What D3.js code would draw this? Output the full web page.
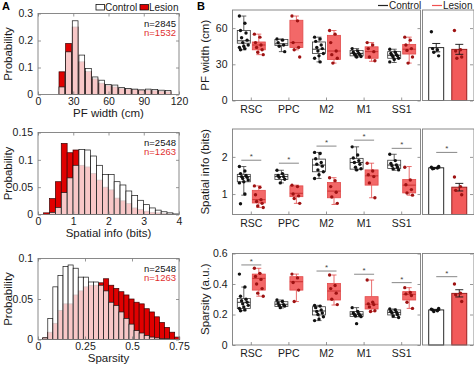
<!DOCTYPE html>
<html>
<head>
<meta charset="utf-8">
<script src="https://cdn.jsdelivr.net/npm/d3@7"></script>
<style>
  body { margin: 0; background: #fff; }
  svg { font-family: "Liberation Sans", Arial, sans-serif; }
</style>
</head>
<body>
<svg id="fig" width="474" height="366"></svg>
<script>
// ---- panel A: histograms (probability per bin) ----
const pfBinStart = 17.5, pfBinWidth = 5.65;
const pfControl = [0.028, 0.158, 0.273, 0.146, 0.096, 0.065, 0.053, 0.037, 0.035, 0.026, 0.022, 0.020, 0.017, 0.020, 0.018, 0.016, 0.015];
const pfLesion  = [0.084, 0.189, 0.250, 0.121, 0.085, 0.058, 0.042, 0.033, 0.028, 0.022, 0.020, 0.018, 0.016, 0.016, 0.014, 0.012, 0.010];

const siBinStart = 0.16, siBinWidth = 0.1667;
const siControl = [0, 0.004, 0.013, 0.040, 0.067, 0.090, 0.119, 0.118, 0.107, 0.090, 0.073, 0.073, 0.060, 0.054, 0.043, 0.035, 0.026, 0.018, 0.012, 0.008, 0.005, 0.003, 0.001];
const siLesion  = [0.003, 0.029, 0.060, 0.130, 0.113, 0.118, 0.090, 0.087, 0.075, 0.063, 0.050, 0.045, 0.030, 0.025, 0.020, 0.012, 0.009, 0.006, 0.004, 0.003, 0.002, 0.001, 0];

const spBinStart = 0.025, spBinWidth = 0.027;
const spControl = [0.002, 0.026, 0.065, 0.079, 0.090, 0.092, 0.088, 0.077, 0.077, 0.071, 0.071, 0.067, 0.060, 0.046, 0.042, 0.034, 0.026, 0.019, 0.011, 0.008, 0.005, 0.003, 0.002, 0.001, 0.001, 0, 0];
const spLesion  = [0.002, 0.009, 0.020, 0.036, 0.044, 0.044, 0.055, 0.060, 0.065, 0.067, 0.067, 0.070, 0.075, 0.067, 0.063, 0.059, 0.055, 0.050, 0.046, 0.044, 0.038, 0.034, 0.028, 0.021, 0.015, 0.009, 0.003];

const nControl = ["n=2845", "n=2548", "n=2548"];
const nLesion  = ["n=1532", "n=1263", "n=1263"];

// ---- panel B: per-region boxes [lo, q1, median, q3, hi] and sessions ----
const regions = ["RSC", "PPC", "M2", "M1", "SS1"];

const pfCtrlBox = [[42, 47.5, 49.5, 58, 70], [40.5, 45.5, 47, 50.5, 51], [32, 39, 42.5, 48.5, 52.5], [36, 37, 39, 41.5, 43], [31.5, 35, 37.5, 40.5, 42.5]];
const pfLesBox  = [[38, 42, 46, 48.5, 55], [42, 44, 48, 66.5, 70], [31, 34, 41, 54, 58], [32.5, 35, 40.5, 44.5, 48], [31, 38.5, 42.5, 46.5, 52.5]];
const pfCtrlPts = [[70, 64, 58, 56, 52, 50, 48, 46, 45, 44, 43, 42], [51, 50, 48, 46, 45, 40.5], [52.5, 51, 49, 46, 44, 43, 41, 39, 37, 35, 32], [43, 41, 40, 39, 38.5, 38, 37.5, 36.5, 36], [42.5, 40, 39, 38, 37.5, 37, 36, 35, 34, 32]];
const pfLesPts  = [[55, 52.5, 48, 46, 44, 42, 40, 38], [70, 66, 48, 44, 42, 36], [58, 55, 48, 41, 38, 35, 31], [48, 46, 43, 40.5, 36, 33], [52.5, 50, 46, 43, 41.5, 36, 31]];
const pfSig = [null, null, null, null, null];

const siCtrlBox = [[0.97, 1.33, 1.47, 1.53, 1.74], [1.30, 1.39, 1.47, 1.53, 1.64], [1.42, 1.60, 1.78, 1.94, 2.12], [1.65, 1.67, 1.85, 1.96, 2.27], [1.64, 1.69, 1.78, 1.91, 2.07]];
const siLesBox  = [[0.64, 0.76, 0.85, 1.10, 1.22], [0.75, 0.93, 1.02, 1.22, 1.24], [0.72, 0.90, 1.08, 1.31, 1.44], [0.90, 1.24, 1.49, 1.65, 1.83], [0.97, 1.03, 1.24, 1.39, 1.74]];
const siCtrlPts = [[1.74, 1.62, 1.55, 1.5, 1.47, 1.45, 1.42, 1.38, 1.33, 1.3, 1.0, 0.74], [1.64, 1.55, 1.5, 1.47, 1.45, 1.4, 1.3], [2.12, 2.09, 1.95, 1.85, 1.8, 1.75, 1.65, 1.6, 1.52, 1.42], [2.27, 2.05, 1.97, 1.9, 1.85, 1.8, 1.72, 1.68, 1.65], [2.07, 1.9, 1.82, 1.78, 1.76, 1.72, 1.68, 1.65]];
const siLesPts  = [[1.22, 1.18, 0.98, 0.85, 0.8, 0.75, 0.68, 0.64], [1.24, 1.2, 1.0, 0.95, 0.88, 0.75], [1.44, 1.36, 1.2, 1.05, 0.92, 0.75], [1.83, 1.62, 1.52, 1.47, 1.3, 0.9], [1.72, 1.38, 1.25, 1.12, 1.03, 0.97]];
const siSig = [1.91, 1.83, 2.29, 2.45, 2.23];

const spCtrlBox = [[0.225, 0.24, 0.28, 0.305, 0.38], [0.243, 0.252, 0.267, 0.284, 0.295], [0.16, 0.197, 0.223, 0.251, 0.26], [0.185, 0.187, 0.202, 0.219, 0.245], [0.18, 0.197, 0.214, 0.23, 0.236]];
const spLesBox  = [[0.32, 0.36, 0.437, 0.465, 0.503], [0.285, 0.36, 0.415, 0.448, 0.465], [0.262, 0.295, 0.354, 0.404, 0.459], [0.219, 0.236, 0.267, 0.317, 0.426], [0.24, 0.295, 0.332, 0.35, 0.376]];
const spCtrlPts = [[0.465, 0.38, 0.32, 0.3, 0.29, 0.28, 0.27, 0.26, 0.25, 0.24, 0.23, 0.225], [0.295, 0.285, 0.275, 0.265, 0.26, 0.255, 0.245], [0.26, 0.255, 0.245, 0.23, 0.22, 0.21, 0.2, 0.185, 0.17, 0.16], [0.245, 0.22, 0.21, 0.205, 0.2, 0.195, 0.19, 0.186, 0.14], [0.236, 0.23, 0.22, 0.215, 0.21, 0.2, 0.19, 0.18]];
const spLesPts  = [[0.503, 0.47, 0.45, 0.43, 0.4, 0.37, 0.34, 0.32], [0.465, 0.44, 0.41, 0.36, 0.285], [0.459, 0.39, 0.37, 0.34, 0.3, 0.265], [0.426, 0.28, 0.27, 0.265, 0.25, 0.225, 0.22], [0.376, 0.345, 0.335, 0.325, 0.28, 0.24]];
const spSig = [0.525, null, 0.485, 0.464, 0.409];

// per-animal values for the summary bars
const pfMiceCtrl = [57, 42, 43, 37, 40];
const pfMiceLes  = [58, 42, 41, 36, 35];
const siMiceCtrl = [1.72, 1.70, 1.68, 1.74, 1.69];
const siMiceLes  = [1.46, 1.2, 1.1, 0.98];
const spMiceCtrl = [0.235, 0.225, 0.23, 0.24, 0.22];
const spMiceLes  = [0.40, 0.34, 0.33, 0.285];
const barSig = [null, 2.12, 0.448];

// ---- styles ----
const axisGray = "#7d7d7d";
const txt = "#1a1a1a";
const histRed = "#e00000";
const boxRed = "#f36868";
const boxRedLine = "#e24a4a";
const dotRed = "#9e1212";

const svg = d3.select("#fig");

function frame(g, x0, x1, y0, y1) {
  g.append("rect")
    .attr("x", x0).attr("y", y0)
    .attr("width", x1 - x0).attr("height", y1 - y0)
    .attr("fill", "none").attr("stroke", axisGray).attr("stroke-width", 0.9);
}

function styleAxis(sel, size) {
  sel.select(".domain").remove();
  sel.selectAll(".tick line").attr("stroke", axisGray).attr("stroke-width", 0.8);
  sel.selectAll(".tick text").attr("fill", txt).attr("font-size", size);
  sel.attr("font-family", null);
}

// ---------------- panel A ----------------
function drawHist(p) {
  const g = svg.append("g");
  const x0 = 38, x1 = 179;
  const x = d3.scaleLinear().domain(p.xDom).range([x0, x1]);
  const y = d3.scaleLinear().domain(p.yDom).range([p.bottom, p.top]);
  const bins = vals => vals.map((v, i) => ({ v, a: p.start + i * p.width, b: p.start + (i + 1) * p.width })).filter(d => d.v > 0);
  const gap = p.gap || 0;

  g.append("g").selectAll("rect").data(bins(p.lesion)).join("rect")
    .attr("x", d => x(d.a) + gap / 2)
    .attr("width", d => x(d.b) - x(d.a) - gap)
    .attr("y", d => y(d.v))
    .attr("height", d => y(0) - y(d.v))
    .attr("fill", histRed).attr("stroke", "#3a0000").attr("stroke-width", 0.7);

  g.append("g").selectAll("rect").data(bins(p.control)).join("rect")
    .attr("x", d => x(d.a) + gap / 2)
    .attr("width", d => x(d.b) - x(d.a) - gap)
    .attr("y", d => y(d.v))
    .attr("height", d => y(0) - y(d.v))
    .attr("fill", "#fff").attr("fill-opacity", 0.78)
    .attr("stroke", "#151515").attr("stroke-width", 0.7);

  frame(g, x0, x1, p.top, p.bottom);

  g.append("g").attr("transform", `translate(${x0},0)`)
    .call(d3.axisLeft(y).tickValues(p.yTicks).tickFormat(d => d).tickSize(-3).tickPadding(5))
    .call(s => styleAxis(s, "10.5px"));
  g.append("g").attr("transform", `translate(${x1},0)`)
    .call(d3.axisRight(y).tickValues(p.yTicks).tickFormat("").tickSize(-3))
    .call(s => styleAxis(s, "10px"));
  g.append("g").attr("transform", `translate(0,${p.bottom})`)
    .call(d3.axisBottom(x).tickValues(p.xTicks).tickFormat(d => d).tickSize(-3).tickPadding(3))
    .call(s => styleAxis(s, "10.5px"));
  g.append("g").attr("transform", `translate(0,${p.top})`)
    .call(d3.axisTop(x).tickValues(p.xTicks).tickFormat("").tickSize(-3))
    .call(s => styleAxis(s, "10px"));

  g.append("text").attr("x", (x0 + x1) / 2).attr("y", p.bottom + 22)
    .attr("text-anchor", "middle").attr("font-size", "11.5px").attr("fill", txt).text(p.xLabel);
  g.append("text").attr("transform", `translate(12,${(p.top + p.bottom) / 2}) rotate(-90)`)
    .attr("text-anchor", "middle").attr("font-size", "11.5px").attr("fill", txt).text("Probability");

  g.append("text").attr("x", 176).attr("y", p.top + 13)
    .attr("text-anchor", "end").attr("font-size", "9.5px").attr("fill", "#111").text(p.nC);
  g.append("text").attr("x", 176).attr("y", p.top + 22.5)
    .attr("text-anchor", "end").attr("font-size", "9.5px").attr("fill", "#e03030").text(p.nL);
}

drawHist({ control: pfControl, lesion: pfLesion, start: pfBinStart, width: pfBinWidth, gap: 0.9,
  xDom: [0, 120], yDom: [0, 0.3], top: 13.5, bottom: 94.5,
  xTicks: [0, 30, 60, 90, 120], yTicks: [0, 0.1, 0.2, 0.3], xLabel: "PF width (cm)", nC: nControl[0], nL: nLesion[0] });
drawHist({ control: siControl, lesion: siLesion, start: siBinStart, width: siBinWidth,
  xDom: [0, 4], yDom: [0, 0.15], top: 132.5, bottom: 214.5,
  xTicks: [0, 1, 2, 3, 4], yTicks: [0, 0.05, 0.1, 0.15], xLabel: "Spatial info (bits)", nC: nControl[1], nL: nLesion[1] });
drawHist({ control: spControl, lesion: spLesion, start: spBinStart, width: spBinWidth,
  xDom: [0, 0.75], yDom: [0, 0.1], top: 258.5, bottom: 339.5,
  xTicks: [0, 0.25, 0.5, 0.75], yTicks: [0, 0.05, 0.1], xLabel: "Sparsity", nC: nControl[2], nL: nLesion[2] });

// legend A
const legA = svg.append("g").attr("font-size", "10px").attr("fill", txt);
legA.append("rect").attr("x", 96).attr("y", 4.5).attr("width", 8.5).attr("height", 5.5)
  .attr("fill", "#fff").attr("stroke", "#111").attr("stroke-width", 0.8);
legA.append("text").attr("x", 105).attr("y", 11).text("Control");
legA.append("rect").attr("x", 140).attr("y", 4.5).attr("width", 8.5).attr("height", 5.5)
  .attr("fill", histRed).attr("stroke", "#111").attr("stroke-width", 0.8);
legA.append("text").attr("x", 149).attr("y", 11).text("Lesion");

svg.append("text").attr("x", 2).attr("y", 10).attr("font-size", "11px").attr("font-weight", "bold").text("A");
svg.append("text").attr("x", 197).attr("y", 10).attr("font-size", "11px").attr("font-weight", "bold").text("B");

// ---------------- panel B ----------------
const bx0 = 232.5, bx1 = 420.5, px0 = 422.5, px1 = 474;
const xr = d3.scaleBand().domain(regions).range([bx0, bx1]);
const xc = d3.scalePoint().domain(["c", "l"]).range([-7.5, 7.5]);
const xs = d3.scaleBand().domain(["c", "l"]).range([px0, px1 - 1]).paddingInner(0.35).paddingOuter(0.27);
const jitter = i => ((i * 5) % 9 - 4) * 1.1;
const boxW = 13;

function drawBox(g, y, cx, st, isLes) {
  const stroke = isLes ? boxRedLine : "#3a3a3a";
  const [lo, q1, md, q3, hi] = st;
  const cap = 2.5;
  g.append("line").attr("x1", cx).attr("x2", cx).attr("y1", y(q3)).attr("y2", y(hi)).attr("stroke", stroke).attr("stroke-width", 0.8);
  g.append("line").attr("x1", cx).attr("x2", cx).attr("y1", y(q1)).attr("y2", y(lo)).attr("stroke", stroke).attr("stroke-width", 0.8);
  g.append("line").attr("x1", cx - cap).attr("x2", cx + cap).attr("y1", y(hi)).attr("y2", y(hi)).attr("stroke", stroke).attr("stroke-width", 0.8);
  g.append("line").attr("x1", cx - cap).attr("x2", cx + cap).attr("y1", y(lo)).attr("y2", y(lo)).attr("stroke", stroke).attr("stroke-width", 0.8);
  g.append("rect").attr("x", cx - boxW / 2).attr("width", boxW)
    .attr("y", y(q3)).attr("height", y(q1) - y(q3))
    .attr("fill", isLes ? boxRed : "#fff").attr("stroke", stroke).attr("stroke-width", 0.8);
  g.append("line").attr("x1", cx - boxW / 2).attr("x2", cx + boxW / 2).attr("y1", y(md)).attr("y2", y(md))
    .attr("stroke", isLes ? "#c42a2a" : "#222").attr("stroke-width", 0.9);
}

function drawDots(g, y, cx, pts, isLes, spread) {
  g.append("g").selectAll("circle").data(pts).join("circle")
    .attr("cx", (d, i) => cx + jitter(i) * spread)
    .attr("cy", d => y(d))
    .attr("r", 1.7)
    .attr("fill", isLes ? dotRed : "#111");
}

function sigMark(g, xa, xb, yy) {
  g.append("line").attr("x1", xa).attr("x2", xb).attr("y1", yy).attr("y2", yy).attr("stroke", "#6a6a6a").attr("stroke-width", 0.8);
  g.append("text").attr("x", (xa + xb) / 2).attr("y", yy - 1).attr("text-anchor", "middle")
    .attr("font-size", "8px").attr("fill", "#444").text("*");
}

function drawRow(p) {
  const g = svg.append("g");
  const y = d3.scaleLinear().domain(p.yDom).range([p.bottom, p.top]);
  const cx = r => xr(r) + xr.bandwidth() / 2;

  regions.forEach((r, i) => {
    drawBox(g, y, cx(r) + xc("c"), p.ctrlBox[i], false);
    drawBox(g, y, cx(r) + xc("l"), p.lesBox[i], true);
  });
  regions.forEach((r, i) => {
    drawDots(g, y, cx(r) + xc("c"), p.ctrlPts[i], false, 1);
    drawDots(g, y, cx(r) + xc("l"), p.lesPts[i], true, 1);
    if (p.sig[i] != null) sigMark(g, cx(r) - 10, cx(r) + 10, y(p.sig[i]));
  });

  frame(g, bx0, bx1, p.top, p.bottom);
  g.append("g").attr("transform", `translate(${bx0},0)`)
    .call(d3.axisLeft(y).tickValues(p.yTicks).tickFormat(d => d).tickSize(-3).tickPadding(5))
    .call(s => styleAxis(s, "10.5px"));
  g.append("g").attr("transform", `translate(${bx1},0)`)
    .call(d3.axisRight(y).tickValues(p.yTicks).tickFormat("").tickSize(-3))
    .call(s => styleAxis(s, "10px"));
  g.append("g").attr("transform", `translate(0,${p.bottom})`)
    .call(d3.axisBottom(xr).tickSize(-3).tickPadding(5))
    .call(s => styleAxis(s, "10.5px"));
  g.append("text").attr("transform", `translate(209,${(p.top + p.bottom) / 2}) rotate(-90)`)
    .attr("text-anchor", "middle").attr("font-size", "11.5px").attr("fill", txt).text(p.yLabel);

  // summary bars (mean +/- SEM per animal)
  const base = y(p.yDom[0]);
  [["c", p.miceC], ["l", p.miceL]].forEach(([k, pts]) => {
    const m = d3.mean(pts), sem = d3.deviation(pts) / Math.sqrt(pts.length);
    const bxp = xs(k), bw = xs.bandwidth(), mid = bxp + bw / 2;
    g.append("rect").attr("x", bxp).attr("width", bw).attr("y", y(m)).attr("height", base - y(m))
      .attr("fill", k === "l" ? "#f25a5a" : "#fff")
      .attr("stroke", k === "l" ? "#8e1414" : "#111").attr("stroke-width", 0.9);
    g.append("line").attr("x1", mid).attr("x2", mid).attr("y1", y(m - sem)).attr("y2", y(m + sem)).attr("stroke", "#111").attr("stroke-width", 0.9);
    g.append("line").attr("x1", mid - 4).attr("x2", mid + 4).attr("y1", y(m + sem)).attr("y2", y(m + sem)).attr("stroke", "#111").attr("stroke-width", 0.9);
    g.append("line").attr("x1", mid - 4).attr("x2", mid + 4).attr("y1", y(m - sem)).attr("y2", y(m - sem)).attr("stroke", "#111").attr("stroke-width", 0.9);
    drawDots(g, y, mid, pts, k === "l", 1.1);
  });
  if (p.barSig != null) sigMark(g, xs("c") + xs.bandwidth() / 2, xs("l") + xs.bandwidth() / 2 - 2, y(p.barSig));

  frame(g, px0, px1, p.top, p.bottom);
  g.append("g").attr("transform", `translate(${px1 - 4},0)`)
    .call(d3.axisRight(y).tickValues(p.yTicks).tickFormat("").tickSize(3))
    .call(s => styleAxis(s, "10px"));
}

drawRow({ top: 10, bottom: 100.5, yDom: [0, 75], yTicks: [0, 30, 60], yLabel: "PF width (cm)",
  ctrlBox: pfCtrlBox, lesBox: pfLesBox, ctrlPts: pfCtrlPts, lesPts: pfLesPts, sig: pfSig,
  miceC: pfMiceCtrl, miceL: pfMiceLes, barSig: barSig[0] });
drawRow({ top: 129, bottom: 214.5, yDom: [0.45, 2.75], yTicks: [1, 2], yLabel: "Spatial info (bits)",
  ctrlBox: siCtrlBox, lesBox: siLesBox, ctrlPts: siCtrlPts, lesPts: siLesPts, sig: siSig,
  miceC: siMiceCtrl, miceL: siMiceLes, barSig: barSig[1] });
drawRow({ top: 253.5, bottom: 345, yDom: [0, 0.6], yTicks: [0, 0.2, 0.4, 0.6], yLabel: "Sparsity (a.u.)",
  ctrlBox: spCtrlBox, lesBox: spLesBox, ctrlPts: spCtrlPts, lesPts: spLesPts, sig: spSig,
  miceC: spMiceCtrl, miceL: spMiceLes, barSig: barSig[2] });

// legend B
const legB = svg.append("g").attr("font-size", "10px").attr("fill", txt);
legB.append("line").attr("x1", 378).attr("x2", 388).attr("y1", 5.5).attr("y2", 5.5).attr("stroke", "#222").attr("stroke-width", 1.2);
legB.append("text").attr("x", 389).attr("y", 9).text("Control");
legB.append("line").attr("x1", 432).attr("x2", 442).attr("y1", 5.5).attr("y2", 5.5).attr("stroke", "#f05050").attr("stroke-width", 1.2);
legB.append("text").attr("x", 443).attr("y", 9).text("Lesion");
</script>
</body>
</html>
